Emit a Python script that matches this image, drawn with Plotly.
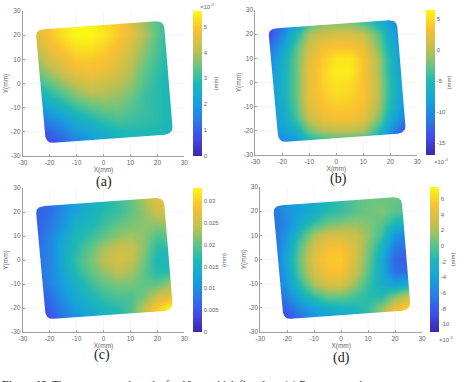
import plotly.graph_objects as go

W, H = 474, 382

grid_x = [-25, -20, -15, -10, -5, 0, 5, 10, 15, 20, 25]
grid_y = [25, 20, 15, 10, 5, 0, -5, -10, -15, -20, -25]

# surface heights, rows follow grid_y, columns grid_x
z_a = [
    [4.7, 5.0, 5.4, 5.6, 5.5, 5.3, 5.0, 4.5, 3.9, 3.3, 3.0],
    [4.5, 4.9, 5.3, 5.6, 5.6, 5.4, 5.0, 4.6, 4.0, 3.3, 2.9],
    [4.2, 4.7, 5.0, 5.3, 5.3, 5.1, 4.8, 4.4, 3.8, 3.2, 2.8],
    [3.8, 4.4, 4.7, 5.0, 5.0, 4.9, 4.6, 4.2, 3.6, 3.1, 2.7],
    [3.5, 3.9, 4.4, 4.7, 4.8, 4.7, 4.4, 4.0, 3.4, 3.0, 2.7],
    [3.0, 3.4, 3.8, 4.2, 4.4, 4.3, 4.1, 3.8, 3.3, 2.9, 2.6],
    [2.4, 2.8, 3.2, 3.6, 3.9, 3.9, 3.8, 3.5, 3.1, 2.9, 2.7],
    [1.7, 2.2, 2.6, 3.0, 3.3, 3.5, 3.5, 3.3, 3.1, 2.9, 2.7],
    [1.2, 1.6, 2.0, 2.4, 2.7, 3.0, 3.2, 3.1, 3.0, 2.9, 2.7],
    [0.6, 1.0, 1.4, 1.9, 2.2, 2.5, 2.7, 2.8, 2.8, 2.7, 2.7],
    [0.2, 0.6, 1.0, 1.4, 1.8, 2.1, 2.3, 2.5, 2.6, 2.6, 2.6],
]
z_b = [
    [-14, -12, -8, -3.5, -2, -2, -2, -3.5, -6, -9, -11],
    [-14, -10.5, -5.5, -0.5, 1, 1.5, 1.5, 0.5, -2.5, -7.5, -11],
    [-12, -8.5, -3.5, 1, 3, 3.5, 3.5, 2.5, -1.5, -6.5, -10],
    [-10.5, -7, -2.5, 2, 4, 5.5, 5.5, 3.5, 0, -5.5, -9.5],
    [-9.5, -6.5, -2.5, 2.5, 4.5, 6, 6, 3.5, 0, -5.5, -9.5],
    [-9, -6.5, -2.5, 2.5, 4.5, 5.5, 5, 3.5, 0.5, -5, -8.5],
    [-9, -6.5, -2.5, 2.5, 4, 5, 4.5, 3.5, 0.5, -5, -9],
    [-9, -7, -3, 2, 3.5, 4, 4, 3, 0, -5.5, -9.5],
    [-9, -7.5, -4, 0.5, 2.5, 3, 3, 2, -1.5, -7, -11],
    [-9.5, -8.5, -7, -2.5, -0.5, 0, 0, -0.5, -4.5, -9.5, -14],
    [-10, -10.5, -9.5, -6.5, -5.5, -5, -5, -5.5, -7.5, -12, -15],
]
z_c = [
    [0.006, 0.007, 0.010, 0.013, 0.015, 0.016, 0.018, 0.020, 0.023, 0.027, 0.028],
    [0.006, 0.007, 0.010, 0.013, 0.015, 0.017, 0.018, 0.020, 0.022, 0.025, 0.026],
    [0.006, 0.008, 0.011, 0.015, 0.016, 0.018, 0.020, 0.021, 0.022, 0.022, 0.023],
    [0.006, 0.009, 0.013, 0.016, 0.018, 0.020, 0.022, 0.023, 0.022, 0.019, 0.020],
    [0.007, 0.009, 0.014, 0.017, 0.020, 0.023, 0.025, 0.025, 0.022, 0.017, 0.017],
    [0.007, 0.009, 0.014, 0.018, 0.021, 0.024, 0.026, 0.025, 0.021, 0.016, 0.016],
    [0.007, 0.009, 0.013, 0.017, 0.020, 0.022, 0.024, 0.023, 0.020, 0.017, 0.017],
    [0.006, 0.009, 0.012, 0.015, 0.018, 0.020, 0.021, 0.021, 0.020, 0.020, 0.023],
    [0.005, 0.007, 0.011, 0.014, 0.016, 0.018, 0.019, 0.019, 0.021, 0.025, 0.027],
    [0.003, 0.006, 0.009, 0.012, 0.014, 0.016, 0.017, 0.019, 0.024, 0.030, 0.033],
    [0.002, 0.004, 0.008, 0.010, 0.013, 0.015, 0.016, 0.019, 0.024, 0.031, 0.033],
]
z_d = [
    [-6, -5, -4, -3, -2, -1, 0, 0.5, 0.5, 0.5, 0],
    [-6.5, -5, -4, -3, -1.5, -1, 0, 0.5, 1, 0, -0.5],
    [-7, -5.5, -3, -1, 0.5, 1, 1.5, 1, 0, -2, -3],
    [-7, -4.5, -1, 2, 3.5, 3.5, 3, 1.5, -1, -5, -6],
    [-7, -4, 0.5, 3.5, 5, 5, 3.5, 1, -2.5, -6.5, -7],
    [-7, -3.5, 1, 4, 5.5, 5.5, 3.5, 0.5, -3.5, -7.5, -8],
    [-7, -4, 0.5, 3.5, 5, 5, 3, 0, -3.5, -7, -7],
    [-7, -4.5, -1, 2, 3.5, 3.5, 1.5, -1, -3, -4, -3],
    [-7.5, -6, -3, -1, 0.5, 0.5, -0.5, -1.5, -1.5, 1, 3],
    [-9, -7.5, -5.5, -4, -3, -2.5, -2, -1, 1.5, 4.5, 6],
    [-10, -9, -7, -5.5, -4.5, -4, -3, -1.5, 1.5, 5, 7],
]

# specimen outline (rounded rotated square)
outline_x = [-25, -24.8, -23.8, -22, 19.5, 21.2, 22.2, 22.6, 25.6, 25.4, 24.3, 22.8, -18.5, -20, -21, -21.6, -25]
outline_y = [19.5, 21, 22, 22.5, 25.8, 25.5, 24.5, 23, -18, -19.5, -20.7, -21.2, -24.5, -24.4, -23.5, -22, 19.5]

axis_ticks = [-30, -20, -10, 0, 10, 20, 30]
axis_ticktext = ["-30", "-20", "-10", "0", "10", "20", "30"]
grid_values = [-20, -10, 0, 10, 20]

cbar_a_vals, cbar_a_text = [0, 1, 2, 3, 4, 5], ["0", "1", "2", "3", "4", "5"]
cbar_b_vals, cbar_b_text = [-15, -10, -5, 0, 5], ["-15", "-10", "-5", "0", "5"]
cbar_c_vals = [0, 0.005, 0.01, 0.015, 0.02, 0.025, 0.03]
cbar_c_text = ["0", "0.005", "0.01", "0.015", "0.02", "0.025", "0.03"]
cbar_d_vals = [-10, -8, -6, -4, -2, 0, 2, 4, 6]
cbar_d_text = ["-10", "-8", "-6", "-4", "-2", "0", "2", "4", "6"]

parula = [
    [0.0, "rgb(60,40,170)"], [0.12, "rgb(65,75,235)"], [0.25, "rgb(40,125,228)"],
    [0.37, "rgb(22,162,220)"], [0.5, "rgb(30,185,180)"], [0.62, "rgb(105,197,130)"],
    [0.72, "rgb(185,192,85)"], [0.87, "rgb(250,192,50)"], [1.0, "rgb(250,248,20)"],
]

AX = "#a0a0a0"
TXT = "#666666"
FONT = "Liberation Sans"
SERIF = "Liberation Serif"

panels = [
    dict(z=z_a, zr=(0, 5.6), vals=cbar_a_vals, text=cbar_a_text, box=(22.7, 184.3, 11, 156), cb=193, cap="(a)", cap_xy=(104, 182), exp=("×10<sup>-3</sup>", 207, 6)),
    dict(z=z_b, zr=(-17, 6.5), vals=cbar_b_vals, text=cbar_b_text, box=(255.3, 417.3, 10, 155), cb=426, cap="(b)", cap_xy=(338, 179), exp=("×10<sup>-4</sup>", 441, 161)),
    dict(z=z_c, zr=(0, 0.033), vals=cbar_c_vals, text=cbar_c_text, box=(22.7, 184.3, 188, 332), cb=193, cap="(c)", cap_xy=(102, 355), exp=None),
    dict(z=z_d, zr=(-11, 7.5), vals=cbar_d_vals, text=cbar_d_text, box=(260.3, 422, 187, 332), cb=430, cap="(d)", cap_xy=(341, 358), exp=("×10<sup>-3</sup>", 446, 339)),
]


def crossings(c, along, across):
    """Where a grid line at `across`==c meets the outline, in the `along` coordinate."""
    hits = []
    for i in range(len(across) - 1):
        a0, a1 = across[i], across[i + 1]
        if (a0 <= c < a1) or (a1 <= c < a0):
            t = (c - a0) / (a1 - a0)
            hits.append(along[i] + t * (along[i + 1] - along[i]))
    return min(hits), max(hits)


def grid_segments():
    xs, ys = [], []
    for c in grid_values:
        lo, hi = crossings(c, outline_y, outline_x)
        xs += [c, c, None, c, c, None]
        ys += [-30, lo, None, hi, 30, None]
        lo, hi = crossings(c, outline_x, outline_y)
        xs += [-30, lo, None, hi, 30, None]
        ys += [c, c, None, c, c, None]
    return xs, ys


fig = go.Figure()
annotations = []
seg_x, seg_y = grid_segments()
layout_axes = {}

for i, p in enumerate(panels):
    n = "" if i == 0 else str(i + 1)
    xa, ya = "x" + n, "y" + n
    l, r, t, b = p["box"]
    fig.add_trace(go.Heatmap(
        x=grid_x, y=grid_y, z=p["z"], zmin=p["zr"][0], zmax=p["zr"][1], zsmooth="best",
        colorscale=parula, xaxis=xa, yaxis=ya, hoverinfo="skip",
        colorbar=dict(
            x=p["cb"] / W, xanchor="left", xpad=0, ypad=0, y=1 - t / H, yanchor="top",
            lenmode="fraction", len=(b - t) / H, thickness=9, outlinewidth=0,
            tickvals=p["vals"], ticktext=p["text"], ticks="", ticklen=0,
            tickfont=dict(size=6, color=TXT, family=FONT),
            title=dict(text="(mm)", side="right", font=dict(size=6, color=TXT, family=FONT)),
        ),
    ))
    # white cover outside the specimen, then the faint grid on top of it
    mask_x = [-30, 30, 30, -30, -30] + outline_x + [-30]
    mask_y = [-30, -30, 30, 30, -30] + outline_y + [-30]
    fig.add_trace(go.Scatter(x=mask_x, y=mask_y, mode="none", fill="toself", fillcolor="white",
                             xaxis=xa, yaxis=ya, showlegend=False, hoverinfo="skip"))
    fig.add_trace(go.Scatter(x=seg_x, y=seg_y, mode="lines", line=dict(color="#f0f0f0", width=0.7),
                             xaxis=xa, yaxis=ya, showlegend=False, hoverinfo="skip"))
    common = dict(range=[-30, 30], tickvals=axis_ticks, ticktext=axis_ticktext, ticks="inside", ticklen=2,
                  tickwidth=0.7, tickcolor=AX, showline=True, linecolor=AX, linewidth=0.8, showgrid=False,
                  zeroline=False, tickfont=dict(size=6.5, color=TXT, family=FONT), fixedrange=True,
                  mirror=False)
    layout_axes["xaxis" + n] = dict(domain=[l / W, r / W], anchor=ya,
                                    title=dict(text="X(mm)", font=dict(size=6.5, color=TXT, family=FONT), standoff=1),
                                    **common)
    layout_axes["yaxis" + n] = dict(domain=[1 - b / H, 1 - t / H], anchor=xa,
                                    title=dict(text="Y(mm)", font=dict(size=6.5, color=TXT, family=FONT), standoff=1),
                                    **common)
    annotations.append(dict(text=p["cap"], x=p["cap_xy"][0] / W, y=1 - p["cap_xy"][1] / H, xref="paper", yref="paper",
                            showarrow=False, xanchor="center", yanchor="middle",
                            font=dict(size=14, color="#222222", family=SERIF)))
    if p["exp"]:
        annotations.append(dict(text=p["exp"][0], x=p["exp"][1] / W, y=1 - p["exp"][2] / H, xref="paper", yref="paper",
                                showarrow=False, xanchor="center", yanchor="middle",
                                font=dict(size=6, color=TXT, family=FONT)))

annotations.append(dict(
    text="<b>Figure 12.</b> The reconstructed results for 10 mm thick flat glass. (a) Reconstructed to",
    x=0, y=1 - 384 / H, xref="paper", yref="paper", showarrow=False, xanchor="left", yanchor="middle",
    font=dict(size=11, color="#222222", family=SERIF)))

fig.update_layout(
    width=W, height=H, margin=dict(l=0, r=0, t=0, b=0, autoexpand=False),
    paper_bgcolor="white", plot_bgcolor="white", showlegend=False,
    annotations=annotations, **layout_axes,
)

fig.write_html("out.html", config={"displayModeBar": False},
               post_script="document.body.style.margin='0';")
